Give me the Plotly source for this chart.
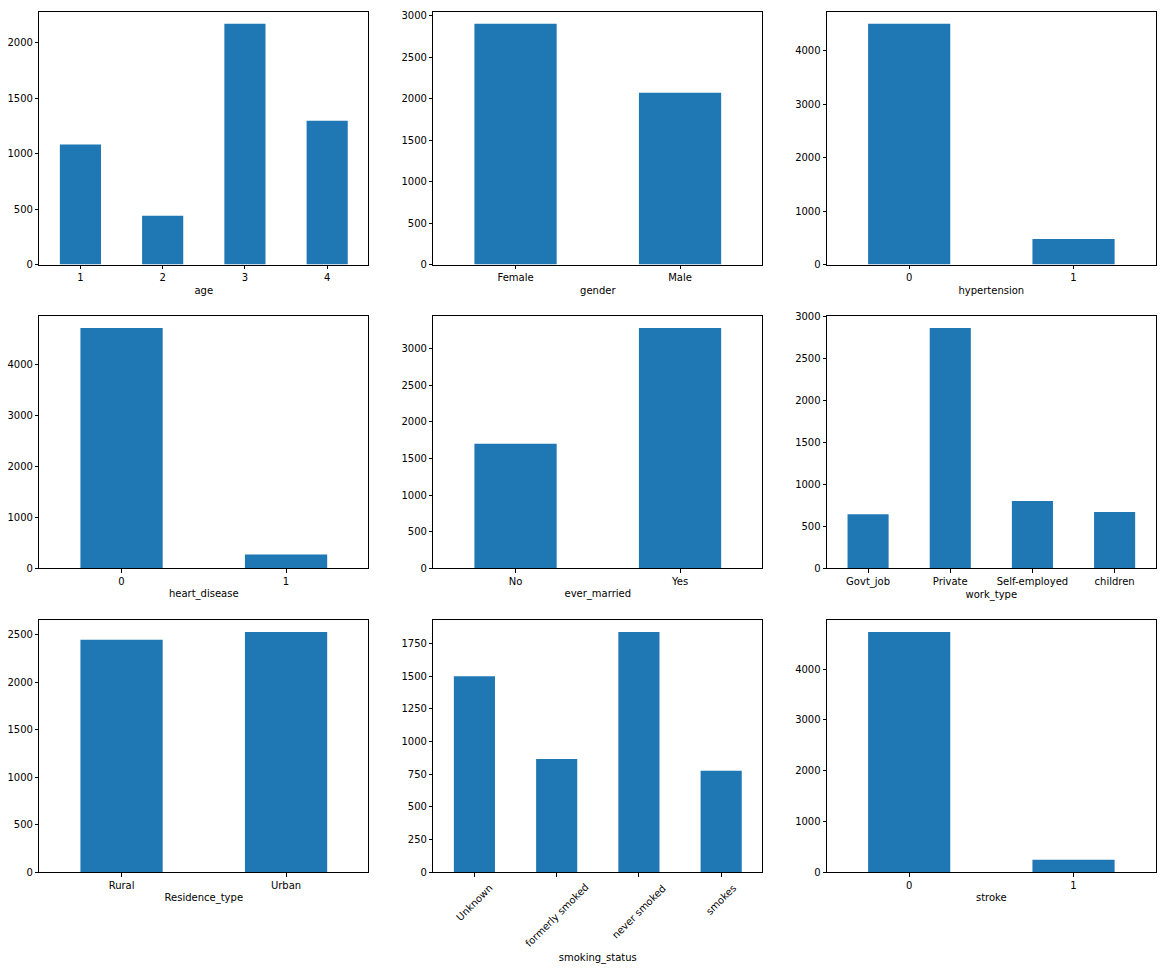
import plotly.graph_objects as go

W, H = 1162, 972

age_cats = ["1", "2", "3", "4"]
age_vals = [1083, 440, 2171, 1296]

gender_cats = ["Female", "Male"]
gender_vals = [2907, 2074]

hypertension_cats = ["0", "1"]
hypertension_vals = [4502, 479]

heart_cats = ["0", "1"]
heart_vals = [4706, 275]

married_cats = ["No", "Yes"]
married_vals = [1701, 3280]

work_cats = ["Govt_job", "Private", "Self-employed", "children"]
work_vals = [644, 2860, 804, 673]

residence_cats = ["Rural", "Urban"]
residence_vals = [2449, 2532]

smoking_cats = ["Unknown", "formerly smoked", "never smoked", "smokes"]
smoking_vals = [1500, 867, 1838, 776]

stroke_cats = ["0", "1"]
stroke_vals = [4733, 248]

panels = [
    ("age", age_cats, age_vals, 500),
    ("gender", gender_cats, gender_vals, 500),
    ("hypertension", hypertension_cats, hypertension_vals, 1000),
    ("heart_disease", heart_cats, heart_vals, 1000),
    ("ever_married", married_cats, married_vals, 500),
    ("work_type", work_cats, work_vals, 500),
    ("Residence_type", residence_cats, residence_vals, 500),
    ("smoking_status", smoking_cats, smoking_vals, 250),
    ("stroke", stroke_cats, stroke_vals, 1000),
]

# axes boxes in pixels (left, right) and (top, bottom)
col_px = [(39.3, 368.3), (433.3, 762.3), (827.0, 1155.7)]
row_px = [(6.7, 262.3), (314.3, 569.3), (621.3, 876.3)]

FONT = "DejaVu Sans"
BLUE = "#1f77b4"

fig = go.Figure()
layout = dict(
    width=W, height=H,
    margin=dict(l=0, r=0, t=0, b=0),
    paper_bgcolor="white", plot_bgcolor="white",
    showlegend=False,
    font=dict(family=FONT, size=10, color="black"),
    annotations=[],
)

for i, (name, cats, vals, dt) in enumerate(panels):
    r, c = divmod(i, 3)
    idx = "" if i == 0 else str(i + 1)
    xa, ya = "x" + idx, "y" + idx
    fig.add_trace(go.Bar(x=cats, y=vals, width=0.5, marker=dict(color=BLUE, line=dict(width=0)),
                         xaxis=xa, yaxis=ya, hoverinfo="x+y"))
    x0, x1 = col_px[c]
    t0, t1 = row_px[r]
    rotated = name == "smoking_status"
    layout["xaxis" + idx] = dict(
        domain=[x0 / W, x1 / W], anchor=ya, type="category",
        range=[-0.5, len(cats) - 0.5],
        showline=True, mirror=True, linecolor="black", linewidth=0.8,
        ticks="outside", ticklen=3.5, tickwidth=0.8, tickcolor="black",
        showgrid=False, zeroline=False,
        showticklabels=not rotated,
        tickfont=dict(family=FONT, size=10, color="black"),
        title=dict(text=name, font=dict(family=FONT, size=10, color="black"),
                   standoff=(78 if rotated else 4)),
        fixedrange=True,
    )
    layout["yaxis" + idx] = dict(
        domain=[1 - t1 / H, 1 - t0 / H], anchor=xa,
        range=[0, max(vals) * 1.05], dtick=dt, tick0=0,
        showline=True, mirror=True, linecolor="black", linewidth=0.8,
        ticks="outside", ticklen=3.5, tickwidth=0.8, tickcolor="black",
        showgrid=False, zeroline=False,
        tickfont=dict(family=FONT, size=10, color="black"),
        fixedrange=True,
    )
    if rotated:
        for cat in cats:
            layout["annotations"].append(dict(
                x=cat, y=0, xref=xa, yref=ya, text=cat, showarrow=False,
                textangle=-45, xanchor="center", yanchor="top", yshift=-7,
                font=dict(family=FONT, size=10, color="black"),
            ))

fig.update_layout(**layout)
fig.write_html(
    "out.html",
    config={"displayModeBar": False},
    post_script=(
        "document.documentElement.style.margin='0';"
        "document.body.style.margin='0';"
        "document.documentElement.style.overflow='hidden';"
        "document.body.style.overflow='hidden';"
    ),
)
